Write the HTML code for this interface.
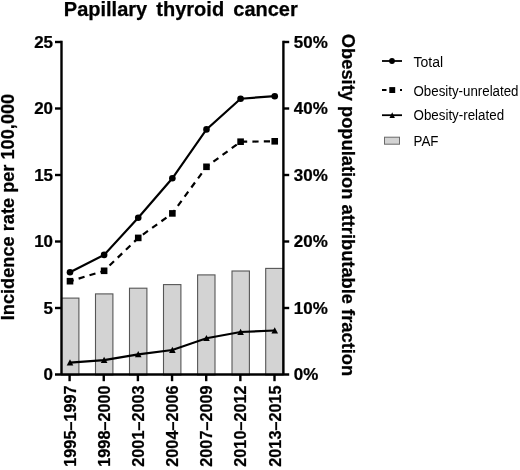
<!DOCTYPE html>
<html><head><meta charset="utf-8"><title>Papillary thyroid cancer</title>
<style>html,body{margin:0;padding:0;background:#fff}svg{display:block}text{font-family:"Liberation Sans",Arial,sans-serif;fill:#000}.b{font-weight:bold;stroke:#000;stroke-width:0.25px}</style></head><body>
<svg width="520" height="470" viewBox="0 0 520 470">
<rect width="520" height="470" fill="#fff"/>
<rect x="61.50" y="298.10" width="17.4" height="76.90" fill="#d3d3d3" stroke="#565656" stroke-width="1.1"/>
<rect x="95.50" y="293.90" width="17.4" height="81.10" fill="#d3d3d3" stroke="#565656" stroke-width="1.1"/>
<rect x="129.50" y="288.20" width="17.4" height="86.80" fill="#d3d3d3" stroke="#565656" stroke-width="1.1"/>
<rect x="163.50" y="284.60" width="17.4" height="90.40" fill="#d3d3d3" stroke="#565656" stroke-width="1.1"/>
<rect x="197.60" y="274.90" width="17.4" height="100.10" fill="#d3d3d3" stroke="#565656" stroke-width="1.1"/>
<rect x="232.00" y="271.00" width="17.4" height="104.00" fill="#d3d3d3" stroke="#565656" stroke-width="1.1"/>
<rect x="265.70" y="268.40" width="17.4" height="106.60" fill="#d3d3d3" stroke="#565656" stroke-width="1.1"/>
<g stroke="#000" stroke-width="2.4" fill="none">
<path d="M61.5 40.8 V374.5"/>
<path d="M283.4 40.8 V374.5"/>
<path d="M55 374.5 H289.2"/>
<path d="M55 42.00 H61.5"/>
<path d="M283.4 42.00 H289.2"/>
<path d="M55 108.50 H61.5"/>
<path d="M283.4 108.50 H289.2"/>
<path d="M55 175.00 H61.5"/>
<path d="M283.4 175.00 H289.2"/>
<path d="M55 241.50 H61.5"/>
<path d="M283.4 241.50 H289.2"/>
<path d="M55 308.00 H61.5"/>
<path d="M283.4 308.00 H289.2"/>
<path d="M69.60 374.5 V381.2"/>
<path d="M103.75 374.5 V381.2"/>
<path d="M137.90 374.5 V381.2"/>
<path d="M172.05 374.5 V381.2"/>
<path d="M206.20 374.5 V381.2"/>
<path d="M240.35 374.5 V381.2"/>
<path d="M274.50 374.5 V381.2"/>
</g>
<text class="b" font-size="16.4" text-anchor="end" transform="translate(53 47.75) scale(1.035 1)">25</text>
<text class="b" font-size="16.4" transform="translate(293.8 47.75) scale(1.035 1)">50%</text>
<text class="b" font-size="16.4" text-anchor="end" transform="translate(53 114.25) scale(1.035 1)">20</text>
<text class="b" font-size="16.4" transform="translate(293.8 114.25) scale(1.035 1)">40%</text>
<text class="b" font-size="16.4" text-anchor="end" transform="translate(53 180.75) scale(1.035 1)">15</text>
<text class="b" font-size="16.4" transform="translate(293.8 180.75) scale(1.035 1)">30%</text>
<text class="b" font-size="16.4" text-anchor="end" transform="translate(53 247.25) scale(1.035 1)">10</text>
<text class="b" font-size="16.4" transform="translate(293.8 247.25) scale(1.035 1)">20%</text>
<text class="b" font-size="16.4" text-anchor="end" transform="translate(53 313.75) scale(1.035 1)">5</text>
<text class="b" font-size="16.4" transform="translate(293.8 313.75) scale(1.035 1)">10%</text>
<text class="b" font-size="16.4" text-anchor="end" transform="translate(53 380.25) scale(1.035 1)">0</text>
<text class="b" font-size="16.4" transform="translate(293.8 380.25) scale(1.035 1)">0%</text>
<text class="b" font-size="16.2" text-anchor="end" transform="translate(75.70 385.6) rotate(-90)">1995–1997</text>
<text class="b" font-size="16.2" text-anchor="end" transform="translate(109.85 385.6) rotate(-90)">1998–2000</text>
<text class="b" font-size="16.2" text-anchor="end" transform="translate(144.00 385.6) rotate(-90)">2001–2003</text>
<text class="b" font-size="16.2" text-anchor="end" transform="translate(178.15 385.6) rotate(-90)">2004–2006</text>
<text class="b" font-size="16.2" text-anchor="end" transform="translate(212.30 385.6) rotate(-90)">2007–2009</text>
<text class="b" font-size="16.2" text-anchor="end" transform="translate(246.45 385.6) rotate(-90)">2010–2012</text>
<text class="b" font-size="16.2" text-anchor="end" transform="translate(280.60 385.6) rotate(-90)">2013–2015</text>
<text class="b" font-size="20" x="63.8" y="15.6" word-spacing="3.6">Papillary thyroid cancer</text>
<text class="b" font-size="18.2" text-anchor="middle" transform="translate(14.1 207) rotate(-90)">Incidence rate per 100,000</text>
<text class="b" font-size="18.3" text-anchor="middle" transform="translate(341.8 205) rotate(90)">Obesity population attributable fraction</text>
<polyline points="70.00,272.30 104.12,254.90 138.24,217.70 172.36,178.30 206.48,129.40 240.60,98.70 274.72,96.20" fill="none" stroke="#000" stroke-width="2.2"/>
<polyline points="70.00,281.20 104.12,270.80 138.24,237.90 172.36,213.40 206.48,166.80 240.60,141.70 274.72,141.30" fill="none" stroke="#000" stroke-width="2.2" stroke-dasharray="6.2 5.2" stroke-dashoffset="2.4"/>
<polyline points="70.00,362.60 104.12,360.10 138.24,354.30 172.36,350.00 206.48,338.20 240.60,332.00 274.72,330.50" fill="none" stroke="#000" stroke-width="2.2"/>
<circle cx="70.00" cy="272.30" r="3.3"/>
<circle cx="104.12" cy="254.90" r="3.3"/>
<circle cx="138.24" cy="217.70" r="3.3"/>
<circle cx="172.36" cy="178.30" r="3.3"/>
<circle cx="206.48" cy="129.40" r="3.3"/>
<circle cx="240.60" cy="98.70" r="3.3"/>
<circle cx="274.72" cy="96.20" r="3.3"/>
<rect x="66.70" y="277.90" width="6.6" height="6.6"/>
<rect x="100.82" y="267.50" width="6.6" height="6.6"/>
<rect x="134.94" y="234.60" width="6.6" height="6.6"/>
<rect x="169.06" y="210.10" width="6.6" height="6.6"/>
<rect x="203.18" y="163.50" width="6.6" height="6.6"/>
<rect x="237.30" y="138.40" width="6.6" height="6.6"/>
<rect x="271.42" y="138.00" width="6.6" height="6.6"/>
<path d="M70.00 359.30 L73.30 365.50 H66.70 Z"/>
<path d="M104.12 356.80 L107.42 363.00 H100.82 Z"/>
<path d="M138.24 351.00 L141.54 357.20 H134.94 Z"/>
<path d="M172.36 346.70 L175.66 352.90 H169.06 Z"/>
<path d="M206.48 334.90 L209.78 341.10 H203.18 Z"/>
<path d="M240.60 328.70 L243.90 334.90 H237.30 Z"/>
<path d="M274.72 327.20 L278.02 333.40 H271.42 Z"/>
<g stroke="#000" stroke-width="1.8" fill="none"><path d="M382 61 H402"/><path d="M382 115.2 H402"/><path d="M382 90 H386.5 M400 90 H402"/></g>
<circle cx="392" cy="61" r="2.9"/>
<rect x="389.3" y="87.1" width="5.9" height="5.9"/>
<path d="M392.2 112.2 L394.9 118 H389.5 Z"/>
<rect x="384.5" y="137.2" width="15" height="7" fill="#d3d3d3" stroke="#6a6a6a" stroke-width="1"/>
<text font-size="14" x="413.5" y="66.8" textLength="29.6" lengthAdjust="spacingAndGlyphs">Total</text>
<text font-size="14" x="413.5" y="95.5" textLength="105" lengthAdjust="spacingAndGlyphs">Obesity-unrelated</text>
<text font-size="14" x="413.5" y="120.2" textLength="90.6" lengthAdjust="spacingAndGlyphs">Obesity-related</text>
<text font-size="14" x="413.5" y="146" textLength="25" lengthAdjust="spacingAndGlyphs">PAF</text>
</svg></body></html>
